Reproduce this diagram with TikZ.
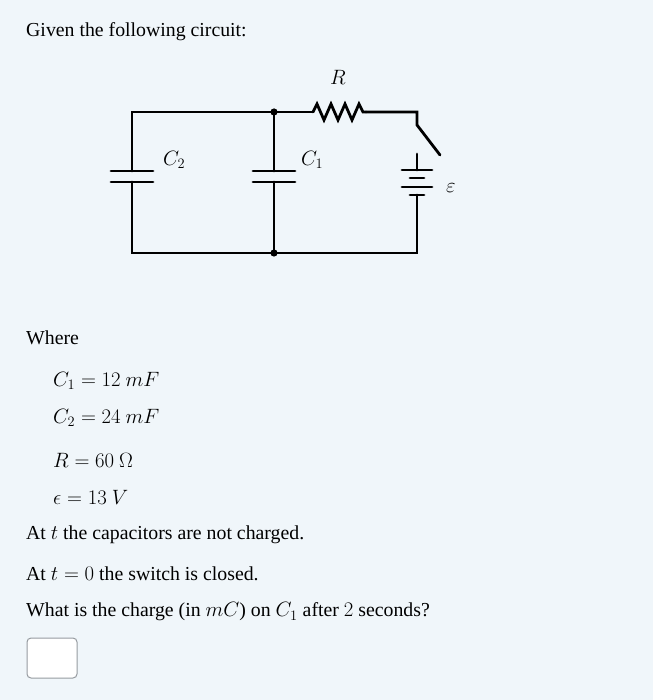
\documentclass[tikz,border=0pt]{standalone}
\usepackage{fontspec}
\setmainfont{Liberation Serif}
\begin{document}
\begin{tikzpicture}[x=1pt,y=-1pt,
  wire/.style={line width=2.8pt,line cap=round},
  txt/.style={anchor=west,inner sep=0pt,font=\fontsize{19.8}{22}\selectfont},
  lbl/.style={inner sep=0pt,font=\fontsize{22}{24}\selectfont}]
\fill[fill={rgb,255:red,240;green,246;blue,250}] (0,0) rectangle (653,700);
\useasboundingbox (0,0) rectangle (653,700);
% nodes
\coordinate (tl) at (132,112); \coordinate (tm) at (274,112);
\coordinate (tr) at (417,112); \coordinate (bl) at (132,253);
\coordinate (bm) at (274,253); \coordinate (br) at (417,253);
\coordinate (r1) at (313,112); \coordinate (r2) at (366,112);
\coordinate (s1) at (417,125); \coordinate (s2) at (440,155);
\coordinate (b0) at (417,154);
% wires
\draw[wire] (r1) -- (tm) -- (tl) -- (132,171);
\draw[wire] (132,182) -- (bl) -- (bm) -- (br) -- (417,195);
\draw[wire] (tm) -- (274,171); \draw[wire] (274,182) -- (bm);
\draw[wire] (r2) -- (tr) -- (s1) -- (s2);
\draw[wire] (r1) -- (317,104) -- (324,120) -- (331,104) -- (338,120) -- (345,104) -- (352,120) -- (359,104) -- (363,112) -- (r2);
% capacitors
\foreach \x in {132,274}{
 \draw[wire] (\x-21,171) -- (\x+21,171); \draw[wire] (\x-21,182) -- (\x+21,182);}
% battery
\draw[wire] (b0) -- (417,170);
\draw[wire] (402,170) -- (432,170);
\draw[wire] (410,178) -- (424,178);
\draw[wire] (402,187) -- (432,187);
\draw[wire] (410,195) -- (424,195);
\fill (tm) circle (3.6); \fill (bm) circle (3.6);
\node[lbl] (lr) at (338,77) {$R$};
\node[lbl,anchor=west] (lc2) at (163,160) {$C_2$};
\node[lbl,anchor=west] (lc1) at (301,160) {$C_1$};
\node[lbl,anchor=west] (le) at (446,188) {$\varepsilon$};
% text
\node[txt] (t1) at (26,32) {Given the following circuit:};
\node[txt] (t2) at (26,338) {Where};
\node[txt] (t3) at (53,381) {$C_1 = 12\ mF$};
\node[txt] (t4) at (53,418) {$C_2 = 24\ mF$};
\node[txt] (t5) at (53,460) {$R = 60\ \Omega$};
\node[txt] (t6) at (53,497) {$\epsilon = 13\ V$};
\node[txt] (t7) at (26,535) {At $t$ the capacitors are not charged.};
\node[txt] (t8) at (26,574) {At $t=0$ the switch is closed.};
\node[txt] (t9) at (26,612) {What is the charge (in $mC$) on $C_1$ after $2$ seconds?};
\draw[line width=1pt,draw={rgb,255:red,150;green,155;blue,160},fill=white,rounded corners=4pt] (27,638) rectangle (77,678);
\end{tikzpicture}
\end{document}
